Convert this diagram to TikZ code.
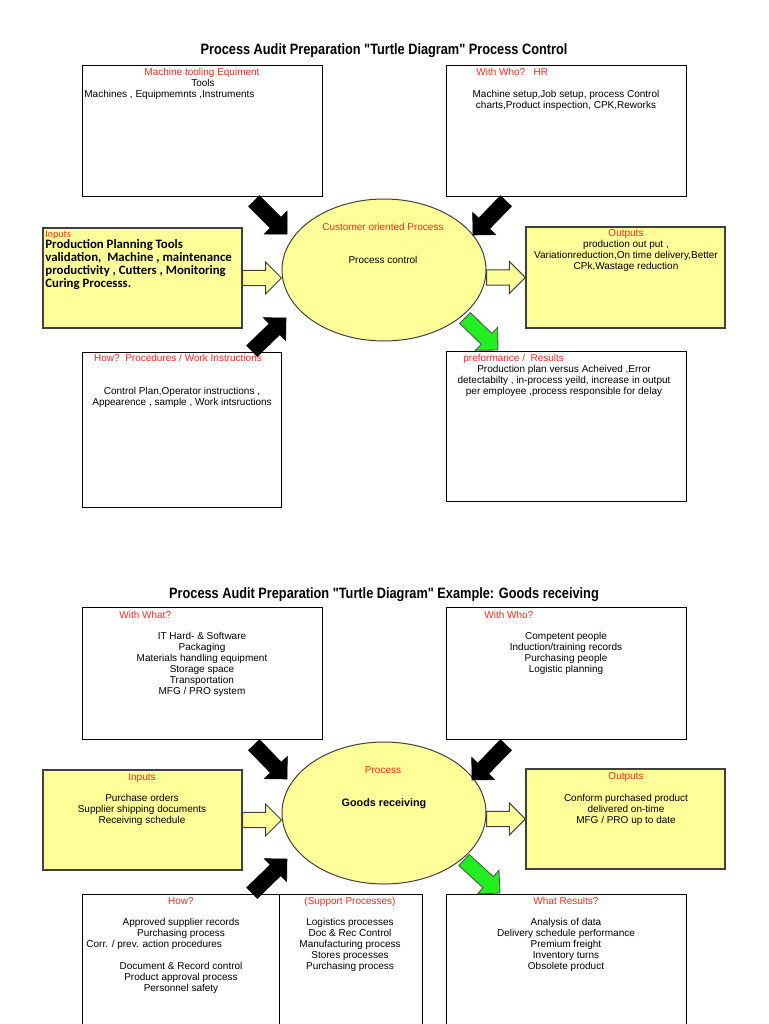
\documentclass[tikz,border=0pt]{standalone}
\usepackage{fontspec}
\setmainfont{Liberation Sans}
\newfontfamily\calibrifont{Carlito}
\usetikzlibrary{calc,fit,shapes.geometric}
\definecolor{hdred}{HTML}{FF2A1A}
\definecolor{softyel}{HTML}{FFFF99}
\definecolor{boxline}{HTML}{404040}
\definecolor{arrgreen}{HTML}{22EE22}
\tikzset{
  wbox/.style={draw=black,line width=0.5pt,fill=white,inner sep=0pt},
  ybox/.style={draw=boxline,line width=0.6pt,fill=softyel,inner sep=0pt},
  procell/.style={ellipse,draw=boxline,line width=0.5pt,fill=softyel,minimum width=102pt,minimum height=71pt,inner sep=0pt},
  ttl/.style={font=\bfseries\fontsize{7.5}{8}\selectfont,inner sep=0pt},
  hd/.style={text=hdred,font=\fontsize{5}{5.45}\selectfont,inner sep=0pt,anchor=north},
  txt/.style={font=\fontsize{5}{5.45}\selectfont,align=center,inner sep=0pt,anchor=north},
  blkar/.style={fill=black,draw=black,line width=0.3pt},
  grnar/.style={fill=arrgreen,draw=black!70,line width=0.4pt},
  ylwar/.style={fill=softyel,draw=boxline,line width=0.5pt}
}
% block arrow: style, start, tip
\newcommand\fatarrow[3]{%
  \draw[#1] let \p1=#2, \p2=#3, \n1={atan2(\y2-\y1,\x2-\x1)}, \n2={veclen(\x2-\x1,\y2-\y1)} in
    [shift={(\p1)},rotate=\n1] (0pt,-3.8pt) -- ({\n2*1pt-8pt},-3.8pt) -- ({\n2*1pt-8pt},-8pt)
    -- ({\n2*1pt},0pt) -- ({\n2*1pt-8pt},8pt) -- ({\n2*1pt-8pt},3.8pt) -- (0pt,3.8pt) -- cycle;}
\begin{document}
\begin{tikzpicture}[x=0.5pt,y=-0.5pt]
\useasboundingbox (0,0) rectangle (768,1024);
\clip (0,0) rectangle (768,1024);
\fill[white] (0,0) rectangle (768,1024);

% ---- turtle 1: process control
\node[ttl] (title1) at (384,51) {\scalebox{0.85}[1]{Process Audit Preparation \textquotedbl Turtle Diagram\textquotedbl{} Process Control}};
\node[wbox,fit={(82,65) (322,196)}] (tools) {};
\node[wbox,fit={(446,65) (686,196)}] (who) {};
\node[ybox,fit={(43,228) (242,328)}] (inp) {};
\node[procell] (proc) at (384,270) {};
\node[ybox,fit={(526,227) (725,328)}] (outp) {};
\node[wbox,fit={(82,352) (281,507)}] (how) {};
\node[wbox,fit={(446,351) (686,501)}] (res) {};

\node[hd] (toolsH) at (202,68) {Machine tooling Equiment};
\node[txt] (toolsT) at (203,79) {Tools};
\node[txt,anchor=north west] (toolsL) at (84,90) {Machines , Equipmemnts ,Instruments};
\node[hd,anchor=north west] (whoH) at (476,68) {With Who?\ \ \ HR};
\node[txt] (whoT) at (566,90) {Machine setup,Job setup, process Control\\charts,Product inspection, CPK,Reworks};
\node[hd,anchor=north west,font=\calibrifont\fontsize{5}{5.5}\selectfont] (inpH) at (45,231) {Inputs};
\node[txt,anchor=north west,align=left,font=\calibrifont\bfseries\fontsize{6.4}{6.5}\selectfont] (inpT) at (45,239)
  {Production Planning Tools\\validation,\ \ Machine , maintenance\\productivity , Cutters , Monitoring\\Curing Processs.};
\node[hd] (procH) at (383,223) {Customer oriented Process};
\node[txt] (procT) at (383,256) {Process control};
\node[hd] (outpH) at (626,229) {Outputs};
\node[txt] (outpT) at (626,240) {production out put ,\\Variationreduction,On time delivery,Better\\CPk,Wastage reduction};
\node[hd] (howH) at (178,354) {How?\ \ Procedures / Work Instructions};
\node[txt] (howT) at (182,387) {Control Plan,Operator instructions ,\\Appearence , sample , Work intsructions};
\node[hd,anchor=north west] (resH) at (463,354) {preformance /\ \ Results};
\node[txt] (resT) at (564,365) {Production plan versus Acheived ,Error\\detectabilty , in-process yeild, increase in output\\per employee ,process responsible for delay};

\fatarrow{blkar}{(254,201)}{(287,234)}
\fatarrow{blkar}{(506,201)}{(473,235)}
\fatarrow{blkar}{(252,351)}{(286,318)}
\fatarrow{grnar}{(465,318)}{(498,350)}
\fatarrow{ylwar}{(inp.east)}{(inp.east -| proc.west)}
\fatarrow{ylwar}{(proc.east |- outp.west)}{(outp.west)}

% ---- turtle 2: goods receiving
\node[ttl] (title2) at (384,595) {\scalebox{0.85}[1]{Process Audit Preparation \textquotedbl Turtle Diagram\textquotedbl{} Example: Goods receiving}};
\node[wbox,fit={(82,607) (322,739)}] (what2) {};
\node[wbox,fit={(446,607) (686,739)}] (who2) {};
\node[ybox,fit={(43,770) (242,870)}] (inp2) {};
\node[procell] (proc2) at (384,813) {};
\node[ybox,fit={(526,769) (725,869)}] (outp2) {};
\node[wbox,fit={(82,894) (279,1034)}] (how2) {};
\node[wbox,fit={(279,894) (422,1034)}] (sup2) {};
\node[wbox,fit={(446,894) (686,1034)}] (res2) {};

\node[hd,anchor=north west] (what2H) at (119,611) {With What?};
\node[txt] (what2T) at (202,632) {IT Hard- \& Software\\Packaging\\Materials handling equipment\\Storage space\\Transportation\\MFG / PRO system};
\node[hd,anchor=north west] (who2H) at (484,611) {With Who?};
\node[txt] (who2T) at (566,632) {Competent people\\Induction/training records\\Purchasing people\\Logistic planning};
\node[hd] (inp2H) at (142,773) {Inputs};
\node[txt] (inp2T) at (142,794) {Purchase orders\\Supplier shipping documents\\Receiving schedule};
\node[hd] (proc2H) at (383,766) {Process};
\node[txt,font=\bfseries\fontsize{5.4}{6}\selectfont] (proc2T) at (384,798) {Goods receiving};
\node[hd] (outp2H) at (626,772) {Outputs};
\node[txt] (outp2T) at (626,794) {Conform purchased product\\delivered on-time\\MFG / PRO up to date};
\node[hd] (how2H) at (181,897) {How?};
\node[txt] (how2T) at (181,918) {Approved supplier records\\Purchasing process};
\node[txt,anchor=north west] (how2C) at (86,940) {Corr. / prev. action procedures};
\node[txt] (how2D) at (181,962) {Document \& Record control\\Product approval process\\Personnel safety};
\node[hd] (sup2H) at (350,897) {(Support Processes)};
\node[txt] (sup2T) at (350,918) {Logistics processes\\Doc \& Rec Control\\Manufacturing process\\Stores processes\\Purchasing process};
\node[hd] (res2H) at (566,897) {What Results?};
\node[txt] (res2T) at (566,918) {Analysis of data\\Delivery schedule performance\\Premium freight\\Inventory turns\\Obsolete product};

\fatarrow{blkar}{(254,745)}{(287,779)}
\fatarrow{blkar}{(506,745)}{(472,780)}
\fatarrow{blkar}{(252,893)}{(287,859)}
\fatarrow{grnar}{(464,860)}{(500,893)}
\fatarrow{ylwar}{(inp2.east)}{(inp2.east -| proc2.west)}
\fatarrow{ylwar}{(proc2.east |- outp2.west)}{(outp2.west)}
\end{tikzpicture}
\end{document}
